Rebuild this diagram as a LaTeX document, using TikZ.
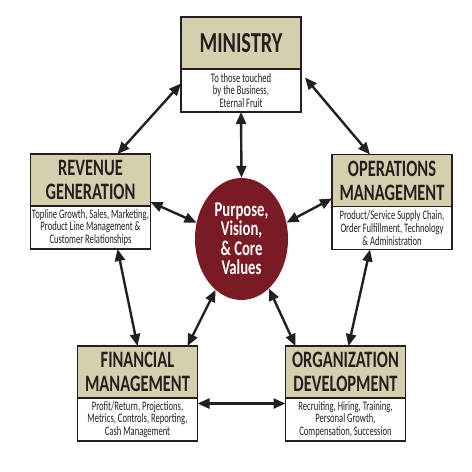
\documentclass[tikz,border=0pt]{standalone}
\usepackage{fontspec}
\newfontfamily\condfont[FakeStretch=0.7]{Carlito}
\newfontfamily\narrowfont[FakeStretch=0.66]{Carlito}
\usetikzlibrary{positioning,shapes.geometric,arrows.meta}
\definecolor{tan}{HTML}{D6CFAE}
\definecolor{maroon}{HTML}{7A1A25}
\definecolor{ink}{HTML}{231F20}

\begin{document}
\begin{tikzpicture}[x=1pt,y=-1pt,
  head/.style={draw=ink,line width=1.3pt,fill=tan,minimum width=120pt,minimum height=52pt,
    inner sep=0pt,outer sep=0pt,align=center,text=ink,font=\condfont\bfseries\fontsize{23.5}{24}\selectfont},
  body/.style={draw=ink,line width=1.3pt,fill=white,minimum width=120pt,minimum height=43pt,
    inner sep=0pt,outer sep=0pt,align=center,text=ink,font=\narrowfont\fontsize{13}{12.8}\selectfont},
  link/.style={{Triangle[length=12pt,width=10pt]}-{Triangle[length=12pt,width=10pt]},line width=2.4pt,draw=ink}]
\useasboundingbox (0,0) rectangle (472,472);

% center
\node[ellipse,fill=maroon,minimum width=93pt,minimum height=122pt,inner sep=0pt,text=white,align=center,
  font=\condfont\bfseries\fontsize{21}{19.5}\selectfont] (purpose) at (241.5,239) {Purpose,\\Vision,\\\& Core\\Values};

% the five boxes
\node[head,font=\condfont\bfseries\fontsize{29}{24}\selectfont] (ministry) at (241,43) {MINISTRY};
\node[body,below=0pt of ministry] (ministryTxt) {To those touched\\by the Business,\\Eternal Fruit};

\node[head] (revenue) at (90.5,180) {REVENUE\\GENERATION};
\node[body,below=0pt of revenue] (revenueTxt) {Topline Growth, Sales, Marketing,\\Product Line Management \&\\Customer Relationships};

\node[head] (operations) at (392,180.5) {OPERATIONS\\MANAGEMENT};
\node[body,below=0pt of operations] (operationsTxt) {Product/Service Supply Chain,\\Order Fulfillment, Technology\\\& Administration};

\node[head] (financial) at (137.5,372) {FINANCIAL\\MANAGEMENT};
\node[body,below=0pt of financial] (financialTxt) {Profit/Return, Projections,\\Metrics, Controls, Reporting,\\Cash Management};

\node[head] (organization) at (345.5,372) {ORGANIZATION\\DEVELOPMENT};
\node[body,below=0pt of organization] (organizationTxt) {Recruiting, Hiring, Training,\\Personal Growth,\\Compensation, Succession};

% arrows
\draw[link] (ministryTxt.south) -- (purpose.north);
\draw[link] ([yshift=7pt]ministryTxt.west) -- ([xshift=27pt]revenue.north);
\draw[link] ([yshift=13pt,xshift=4pt]ministryTxt.east) -- ([xshift=-22pt]operations.north);
\draw[link] ([xshift=27pt]revenueTxt.south) -- (financial.north);
\draw[link] ([xshift=-22pt]operationsTxt.south) -- ([xshift=3pt]organization.north);
\draw[link] ([yshift=4pt]revenue.south east) -- (purpose.160);
\draw[link] ([yshift=8pt]operations.south west) -- (purpose.20);
\draw[link] (purpose.243) -- ([xshift=-10pt]financial.north east);
\draw[link] (purpose.299) -- ([xshift=10pt]organization.north west);
\draw[link] ([yshift=16pt]financialTxt.east) -- ([yshift=16pt]organizationTxt.west);
\end{tikzpicture}
\end{document}
